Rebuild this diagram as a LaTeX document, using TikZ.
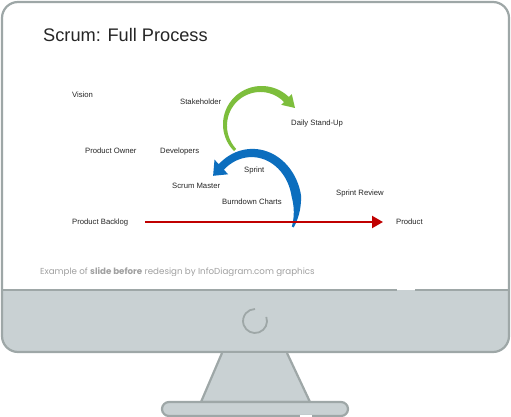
\documentclass[tikz,border=0pt]{standalone}
\usepackage{fontspec}
\setmainfont{Liberation Sans}
\newfontfamily\footfont{Poppins}
\usetikzlibrary{arrows.meta}
\definecolor{mgray}{RGB}{158,167,167}
\definecolor{bez}{RGB}{201,209,211}
\definecolor{arrgreen}{RGB}{125,190,60}
\definecolor{arrblue}{RGB}{12,110,190}
\definecolor{redline}{RGB}{192,0,0}
\definecolor{txt}{RGB}{38,38,38}
\definecolor{foot}{RGB}{160,160,160}
\begin{document}
\begin{tikzpicture}[x=1pt,y=-1pt,
  declare function={wg(\t)=3+4*(224-\t)/179; wb(\t)=min(9.5,2+7.5*(\t+25)/35)-2*max(0,\t-10)/123;},
  monline/.style={draw=mgray,line width=2.2pt},
  lbl/.style={font=\fontsize{7.7}{9}\selectfont,text=txt,inner sep=0pt,anchor=base west}]
\useasboundingbox (0,0) rectangle (511,417);
% monitor
\fill[white,rounded corners=16] (2,2) rectangle (509,352);
\begin{scope}
  \clip[rounded corners=16] (2,2) rectangle (509,352);
  \fill[bez] (0,290) rectangle (511,360);
\end{scope}
\draw[monline,rounded corners=16] (2,2) rectangle (509,352);
\draw[monline] (2,290) -- (397,290);
\draw[monline] (415,290) -- (509,290);
\draw[monline,line width=1.8pt] (266.3,316.9) arc[start angle=-20,end angle=270,radius=12];
\filldraw[monline,fill=bez] (222,353) -- (201,402) -- (310,402) -- (287,353);
\filldraw[monline,fill=bez,rounded corners=7] (162,402) rectangle (348,416);
\draw[white,line width=2.4pt] (300,416) -- (312,416);
% title
\node[font=\fontsize{18.2}{20}\selectfont,text=txt,inner sep=0pt,anchor=base west] (title) at (43,42) {Scrum: Full Process};
% labels
\node[lbl] (vision) at (72,97.8) {Vision};
\node[lbl] (stake) at (180,104.8) {Stakeholder};
\node[lbl] (daily) at (291,125.8) {Daily Stand-Up};
\node[lbl] (po) at (85,153.8) {Product Owner};
\node[lbl] (dev) at (160,153.8) {Developers};
\node[lbl] (sprint) at (244,172.8) {Sprint};
\node[lbl] (sm) at (172,188.8) {Scrum Master};
\node[lbl] (burn) at (222,204.8) {Burndown Charts};
\node[lbl] (review) at (336,195.8) {Sprint Review};
\node[lbl] (product) at (396,224.8) {Product};
\node[lbl] (backlog) at (72,224.8) {Product Backlog};
% green curved arrow
\fill[arrgreen] plot[domain=0:1,samples=60,variable=\s]
   ({261+(36+0.5*wg(224-179*\s))*cos(224-179*\s)},{125-(36+0.5*wg(224-179*\s))*sin(224-179*\s)})
   -- (291.8,94.2) -- (295,108) -- (281.2,104.8)
   -- plot[domain=0:1,samples=60,variable=\s]
   ({261+(36-0.5*wg(45+179*\s))*cos(45+179*\s)},{125-(36-0.5*wg(45+179*\s))*sin(45+179*\s)})
   -- cycle;
% blue curved arrow
\fill[arrblue] plot[domain=0:1,samples=60,variable=\s]
   ({252+(45+0.5*wb(-25+158*\s))*cos(-25+158*\s)},{205-(52+0.5*wb(-25+158*\s))*sin(-25+158*\s)})
   -- (214.5,159.7) -- (213.1,175.8) -- (228.1,174.3)
   -- plot[domain=0:1,samples=60,variable=\s]
   ({252+(45-0.5*wb(133-158*\s))*cos(133-158*\s)},{205-(52-0.5*wb(133-158*\s))*sin(133-158*\s)})
   -- cycle;
% red arrow
\coordinate (rs) at (145,222);
\coordinate (re) at (383,222);
\draw[redline,line width=2.2pt,-{Triangle[length=11pt,width=12pt]}] (rs) -- (re);
% footer
\begin{scope}
  \clip (0,250) rectangle (511,275);
  \node[font=\footfont\fontsize{8.7}{10}\selectfont,text=foot,inner sep=0pt,anchor=base west] (footer) at (40,274) {Example of \textbf{slide before} redesign by InfoDiagram.com graphics};
\end{scope}
\end{tikzpicture}
\end{document}
